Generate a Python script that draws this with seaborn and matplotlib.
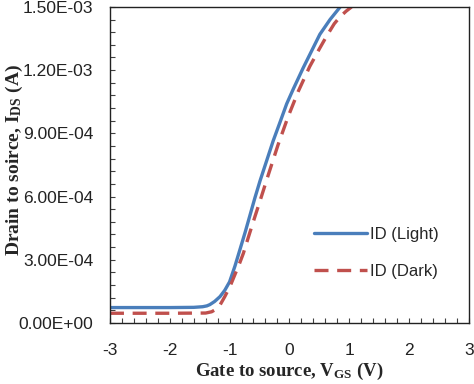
import numpy as np
import pandas as pd
import matplotlib
matplotlib.use("Agg")
import matplotlib.pyplot as plt
from matplotlib.ticker import MultipleLocator, FuncFormatter
import seaborn as sns

# values
vgs_light = [-3.0, -2.0, -1.6, -1.45, -1.38, -1.33, -1.25, -1.16, -1.08, -1.0, -0.91,
             -0.83, -0.74, -0.66, -0.575, -0.49, -0.38, -0.27, -0.16, -0.045, 0.065,
             0.23, 0.37, 0.51, 0.68, 0.85, 1.0]
id_light = [7.3e-5, 7.3e-5, 7.4e-5, 7.7e-5, 8.1e-5, 8.7e-5, 1.02e-4, 1.25e-4, 1.55e-4, 1.95e-4, 2.7e-4,
            3.45e-4, 4.3e-4, 5.1e-4, 5.95e-4, 6.75e-4, 7.7e-4, 8.65e-4, 9.5e-4, 1.04e-3, 1.11e-3,
            1.21e-3, 1.29e-3, 1.37e-3, 1.44e-3, 1.5e-3, 1.55e-3]

vgs_dark = [-3.0, -2.0, -1.4, -1.3, -1.22, -1.16, -1.08, -0.99, -0.91, -0.83, -0.77,
            -0.66, -0.57, -0.49, -0.35, -0.19, -0.02, 0.15, 0.34, 0.5, 0.62, 0.75,
            0.85, 0.95, 1.04]
id_dark = [4.6e-5, 4.6e-5, 4.7e-5, 5.3e-5, 6.6e-5, 8.5e-5, 1.25e-4, 1.75e-4, 2.3e-4, 2.85e-4, 3.3e-4,
           4.3e-4, 5.1e-4, 5.8e-4, 7.05e-4, 8.45e-4, 9.8e-4, 1.1e-3, 1.217e-3, 1.3e-3, 1.36e-3, 1.42e-3,
           1.454e-3, 1.48e-3, 1.5e-3]

x_ticks = [-3, -2, -1, 0, 1, 2, 3]

light = pd.DataFrame({'VGS': vgs_light, 'ID': id_light})
dark = pd.DataFrame({'VGS': vgs_dark, 'ID': id_dark})

sns.set_style("white")
plt.rcParams['axes.unicode_minus'] = False
plt.rcParams['mathtext.fontset'] = 'custom'
plt.rcParams['mathtext.rm'] = 'Liberation Serif:bold'
plt.rcParams['mathtext.it'] = 'Liberation Serif:bold'
plt.rcParams['mathtext.bf'] = 'Liberation Serif:bold'

fig = plt.figure(figsize=(4.74, 3.84), dpi=100)
ax = fig.add_axes([0.232, 0.159, 0.757, 0.823])

sns.lineplot(data=light, x='VGS', y='ID', ax=ax, color='#4a7ebb', lw=2.4,
             label='ID (Light)', estimator=None, sort=False)
sns.lineplot(data=dark, x='VGS', y='ID', ax=ax, color='#c0504d', lw=2.4,
             label='ID (Dark)', estimator=None, sort=False)
ax.lines[1].set_dashes((4.2, 2.6))

ax.set_xlim(-3, 3)
ax.set_ylim(0, 1.5e-3)
ax.set_xticks(x_ticks)
ax.xaxis.set_minor_locator(MultipleLocator(0.2))
ax.yaxis.set_major_locator(MultipleLocator(3e-4))
ax.yaxis.set_minor_locator(MultipleLocator(6e-5))
ax.yaxis.set_major_formatter(FuncFormatter(lambda v, p: f"{v:.2E}"))

ax.tick_params(which='both', direction='in', length=3.6, width=0.8, color='#404040',
               top=False, right=False, bottom=True, left=True)
ax.tick_params(axis='x', which='major', pad=14.5, labelsize=12.5)
ax.tick_params(axis='y', which='major', pad=12, labelsize=12.5)
for lab in ax.get_xticklabels() + ax.get_yticklabels():
    lab.set_fontfamily('Liberation Sans')
    lab.set_color('#222222')

for s in ax.spines.values():
    s.set_color('#222222')
    s.set_linewidth(1.0)

ax.set_xlabel('Gate to source, V$_{GS}$ (V)', family='Liberation Serif',
              fontweight='bold', fontsize=13.5)
ax.set_ylabel('Drain to soirce, I$_{DS}$ (A)', family='Liberation Serif',
              fontweight='bold', fontsize=14)
ax.xaxis.set_label_coords(0.5, -0.12)
ax.yaxis.set_label_coords(-0.237, 0.516)

ax.legend(loc='center left', bbox_to_anchor=(0.527, 0.222), frameon=False,
          prop={'family': 'Liberation Sans', 'size': 12}, handlelength=3.2,
          handletextpad=0.15, labelspacing=1.3)

fig.savefig('out.png', dpi=100)
